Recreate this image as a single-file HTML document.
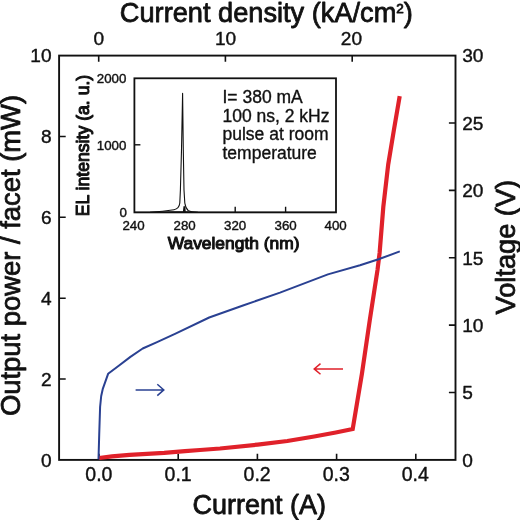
<!DOCTYPE html>
<html>
<head>
<meta charset="utf-8">
<title>L-I-V chart</title>
<style>
html,body{margin:0;padding:0;background:#fff;}
body{width:520px;height:520px;overflow:hidden;}
svg{display:block;}
text{font-family:"Liberation Sans",Arial,Helvetica,sans-serif;fill:#111;stroke:#111;stroke-linejoin:round;}
.big{font-size:27.2px;stroke-width:0.8px;}
.tk{font-size:19.1px;stroke-width:0.4px;}
.btk{font-size:19.5px;stroke-width:0.4px;}
.itk{font-size:13.3px;stroke-width:0.4px;}
.ibold{font-size:17.4px;stroke-width:1.05px;}
.note{font-size:17.5px;stroke-width:0.35px;}
</style>
</head>
<body>
<svg xmlns="http://www.w3.org/2000/svg" width="520" height="520" viewBox="0 0 520 520">
<rect x="0" y="0" width="520" height="520" fill="#fff"/>

<!-- main frame -->
<rect x="59.1" y="55.6" width="396.4" height="404.3" fill="none" stroke="#111" stroke-width="1.9"/>

<!-- ticks -->
<g stroke="#111" stroke-width="1.6" fill="none">
  <!-- left -->
  <path d="M59.1 136.5h6.6M59.1 217.3h6.6M59.1 298.2h6.6M59.1 379.0h6.6"/>
  <!-- right -->
  <path d="M455.5 123.0h-6.6M455.5 190.4h-6.6M455.5 257.8h-6.6M455.5 325.1h-6.6M455.5 392.5h-6.6"/>
  <!-- bottom -->
  <path d="M99.0 459.9v-6.2M178.2 459.9v-6.2M257.4 459.9v-6.2M336.6 459.9v-6.2M415.8 459.9v-6.2"/>
  <!-- top -->
  <path d="M98.7 55.6v6.2M225.4 55.6v6.2M352.2 55.6v6.2"/>
</g>

<!-- tick labels left -->
<g class="tk" text-anchor="end">
  <text x="51.6" y="62.0">10</text>
  <text x="51.6" y="143.4">8</text>
  <text x="51.6" y="224.2">6</text>
  <text x="51.6" y="305.1">4</text>
  <text x="51.6" y="385.9">2</text>
  <text x="51.6" y="467.1">0</text>
</g>
<!-- tick labels right -->
<g class="tk" text-anchor="start">
  <text x="462.2" y="62.0">30</text>
  <text x="462.2" y="129.9">25</text>
  <text x="462.2" y="197.3">20</text>
  <text x="462.2" y="264.6">15</text>
  <text x="462.2" y="332.0">10</text>
  <text x="462.2" y="399.4">5</text>
  <text x="462.2" y="467.1">0</text>
</g>
<!-- bottom labels -->
<g class="btk" text-anchor="middle">
  <text x="98.9" y="480.5">0.0</text>
  <text x="178.1" y="480.5">0.1</text>
  <text x="257.1" y="480.5">0.2</text>
  <text x="336.3" y="480.5">0.3</text>
  <text x="415.3" y="480.5">0.4</text>
</g>
<!-- top labels -->
<g class="tk" text-anchor="middle">
  <text x="98.7" y="44.5">0</text>
  <text x="225.6" y="44.5">10</text>
  <text x="351.4" y="44.5">20</text>
</g>

<!-- axis titles -->
<text class="big" x="266.4" y="21.5" text-anchor="middle">Current density (kA/cm<tspan font-size="13.5" dy="-8.6">2</tspan><tspan dy="8.6">)</tspan></text>
<text class="big" x="259.2" y="513.6" text-anchor="middle" style="font-size:27px">Current (A)</text>
<text class="big" transform="translate(20.3 416.1) rotate(-90)" text-anchor="start" style="font-size:27.4px">Output power / facet (mW)</text>
<text class="big" transform="translate(514.6 314.4) rotate(-90)" text-anchor="start">Voltage (V)</text>

<!-- inset -->
<rect x="134.4" y="78.3" width="201.6" height="134.1" fill="#fff" stroke="#111" stroke-width="1.8"/>
<g stroke="#111" stroke-width="1.4" fill="none">
  <path d="M134.4 144.8h6"/>
  <path d="M184.8 212.2v-5.5M235.2 212.2v-5.5M285.6 212.2v-5.5"/>
</g>
<g class="itk" text-anchor="end">
  <text x="126.4" y="83.2">2000</text>
  <text x="126.4" y="150.2">1000</text>
  <text x="126.9" y="217.3">0</text>
</g>
<g class="itk" text-anchor="middle">
  <text x="133.5" y="230">240</text>
  <text x="184.6" y="230">280</text>
  <text x="235.1" y="230">320</text>
  <text x="285.6" y="230">360</text>
  <text x="335.6" y="230">400</text>
</g>
<text class="ibold" x="233.6" y="249.2" text-anchor="middle">Wavelength (nm)</text>
<text class="ibold" transform="translate(89.2 216.3) rotate(-90)" text-anchor="start" style="font-size:17.65px">EL intensity (a. u.)</text>

<g class="note">
  <text x="222.5" y="102.6">I= 380 mA</text>
  <text x="222.5" y="121.7">100 ns, 2 kHz</text>
  <text x="222.5" y="140.4">pulse at room</text>
  <text x="222.5" y="158.6">temperature</text>
</g>

<!-- spectrum -->
<path d="M134.4 212.2 L150 212.2 C160 211.8 168 210.8 174 209.7 C177.6 209 179.3 207.5 179.8 203 L180.4 190 L181.5 150 L182.6 93.3 L183.3 150 L184 190 L184.8 203 C185.5 207 186.5 209 188.1 210.5 C190.5 211.8 194 212.2 198 212.2 L336 212.2" fill="none" stroke="#111" stroke-width="1.1" stroke-linejoin="round"/>
<path d="M150 212.3 C165 212 178 211.7 183.5 211.5 L184.1 206.2 L184.8 211.6 C188 212 192 212.3 198 212.3" fill="none" stroke="#111" stroke-width="1.2"/>


<!-- red L curve -->
<polyline fill="none" stroke="#e0212a" stroke-width="4.2" stroke-linejoin="miter" stroke-linecap="butt"
 points="99,458 112,456.3 129.6,454.9 164.2,452.9 185,451.2 200,450 220,448.5 257.7,444.6 287.3,441 314.2,436.5 335.8,432.5 352.7,429.1 361.9,373.8 369.8,320 377.5,270 379.6,253 383.3,207 388.2,164.6 393.9,130 399.7,96.2"/>
<!-- blue V curve -->
<polyline fill="none" stroke="#2a4192" stroke-width="2" stroke-linejoin="round" stroke-linecap="butt"
 points="98.5,459.4 99.2,435 100.1,407 101.2,396 102.7,389.2 108.1,373.8 118.1,366.2 130.4,356.9 142.7,348.5 156.5,342.3 175,333.8 209.2,317.5 243,305.5 280,292.6 327.9,274.4 360,265.2 378.5,259.3 399.8,251.4"/>

<!-- arrows -->
<g fill="none" stroke="#2a4192" stroke-width="1.5">
  <path d="M135.6 389.9H163.2M157.3 384.2l6.5 5.7l-6.5 5.7"/>
</g>
<g fill="none" stroke="#e0212a" stroke-width="1.5">
  <path d="M343 368.9H314.8M320.5 363.6l-6.3 5.3l6.3 5.3"/>
</g>
</svg>
</body>
</html>
